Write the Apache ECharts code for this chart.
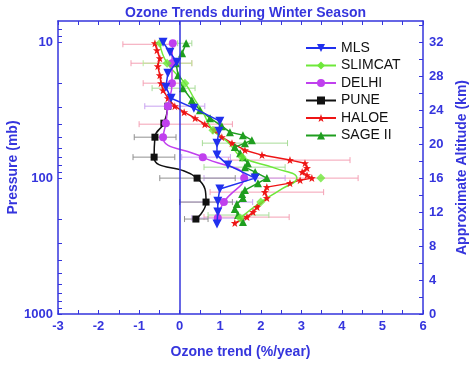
<!DOCTYPE html>
<html><head><meta charset="utf-8">
<script src="https://cdn.jsdelivr.net/npm/echarts@6/dist/echarts.min.js"></script>
<style>html,body{margin:0;padding:0;background:#fff}#c{width:474px;height:373px}</style>
</head><body><div id="c"></div>
<script>
// ---- axis definitions ----
const trendTicks = [-3,-2,-1,0,1,2,3,4,5,6];
const pressureLabelValues = [1000, 100, 10];
const pressureMinorTicks = [1000,900,800,700,600,500,400,300,200,100,90,80,70,60,50,40,30,20,10,9,8];
const altitudeLabels = [0,4,8,12,16,20,24,28,32];
const altitudeTicks = [0,2,4,6,8,10,12,14,16,18,20,22,24,26,28,30,32,34];

// ---- series data (altitude km, trend %/year) ----
const mlsAlt   = [32.0,30.82,29.65,28.35,26.71,25.41,24.24,22.71,21.53,20.12,18.71,17.53,16.0,14.71,13.29,12.0,10.59];
const mlsTrend = [-0.41,-0.24,-0.07,-0.29,-0.34,-0.21,0.35,0.99,0.97,0.92,0.92,1.19,1.86,0.99,0.94,0.94,0.92];

const slimcatLineAlt   = [31.88,29.53,27.18,25.18,23.76,21.65,20.24,18.47,17.18,16.0,14.59,13.18,11.29];
const slimcatLineTrend = [-0.49,-0.31,0.13,0.38,0.57,0.82,1.19,1.54,2.35,2.89,2.47,2.0,1.49];
const slimcatPtAlt   = [31.88,29.53,27.18,21.65,18.47,16.0,13.18,11.29];
const slimcatPtTrend = [-0.49,-0.31,0.13,0.82,1.54,3.48,2.0,1.49];

const delhiAlt   = [31.88,29.53,27.18,24.47,22.47,20.82,18.47,16.0,13.18,11.29];
const delhiTrend = [-0.17,-0.19,-0.19,-0.29,-0.34,-0.41,0.57,1.59,1.09,0.94];

const puneAlt   = [24.47,22.47,20.82,18.47,16.0,13.18,11.18];
const puneTrend = [-0.29,-0.39,-0.61,-0.63,0.43,0.65,0.40];

const haloeAlt   = [31.88,31.06,30.12,29.18,28.12,27.18,26.35,25.41,24.47,23.76,23.06,22.35,21.65,20.82,20.12,19.29,18.71,18.12,17.76,17.18,16.71,16.35,16.0,15.76,15.41,14.94,14.35,13.65,12.59,12.0,11.41,10.71];
const haloeTrend = [-0.61,-0.56,-0.49,-0.54,-0.49,-0.46,-0.41,-0.29,-0.12,0.11,0.38,0.62,0.85,1.04,1.29,1.61,2.03,2.72,3.09,3.14,3.02,3.14,3.26,2.97,2.72,2.15,2.10,2.15,1.91,1.81,1.66,1.36];

const sageAlt   = [31.88,30.71,29.53,28.12,26.59,25.18,24.0,23.06,22.12,21.41,21.06,20.47,20.12,19.65,18.94,18.47,17.76,17.29,16.71,16.0,15.41,14.59,14.12,13.65,12.94,12.35,11.65,10.82];
const sageTrend = [0.16,0.06,-0.09,-0.04,0.08,0.30,0.50,0.75,1.04,1.24,1.56,1.78,1.61,1.36,1.49,1.56,1.68,1.61,1.86,2.15,1.93,1.61,1.54,1.56,1.41,1.36,1.44,1.56];

// ---- error bars: [altitude, low, high] ----
const haloeErr = [[31.76,-1.40,-0.12],[29.53,-1.20,0.30],[27.18,-0.90,0.0],[22.35,-1.0,1.3],[18.12,1.2,4.2],[16.0,2.15,4.4],[14.35,0.75,3.55],[11.41,0.6,2.7]];
const delhiErr = [[24.47,-0.86,0.62],[18.47,0.05,1.25],[16.0,0.6,2.6],[13.18,0.0,1.8],[11.29,0.3,1.6]];
const puneErr  = [[20.82,-1.12,-0.09],[18.47,-1.15,-0.12],[16.0,-0.49,1.37],[13.18,0.0,1.3],[11.18,0.12,0.7]];
const sageErr  = [[31.88,-0.05,0.30],[26.59,-0.68,0.38],[20.12,0.56,2.66],[17.29,0.6,2.6],[11.65,0.7,2.2]];
const slimcatErr = [[29.53,-0.9,0.3]];

const blue = '#3535dd';
const font = 'Liberation Sans, Arial, sans-serif';
const pToAlt = p => 16 * Math.log10(1000 / p);
const zip = (xs, ys) => xs.map((x, i) => [x, ys[i]]);
const star = 'path://M0,-10 L2.35,-3.24 L9.51,-3.09 L3.8,1.24 L5.88,8.09 L0,4 L-5.88,8.09 L-3.8,1.24 L-9.51,-3.09 L-2.35,-3.24Z';

function errSeries(name, data, color) {
  return {
    type: 'custom', name: name, z: 1, silent: true,
    xAxisIndex: 0, yAxisIndex: 0,
    data: data,
    encode: { x: [1, 2], y: 0 },
    renderItem: function (params, api) {
      const z = api.value(0), lo = api.value(1), hi = api.value(2);
      const a = api.coord([lo, z]), b = api.coord([hi, z]);
      const st = { stroke: color, lineWidth: 1 };
      return { type: 'group', children: [
        { type: 'line', shape: { x1: a[0], y1: a[1], x2: b[0], y2: b[1] }, style: st },
        { type: 'line', shape: { x1: a[0], y1: a[1] - 3, x2: a[0], y2: a[1] + 3 }, style: st },
        { type: 'line', shape: { x1: b[0], y1: b[1] - 3, x2: b[0], y2: b[1] + 3 }, style: st }
      ]};
    }
  };
}

const lineDefaults = { type: 'line', lineStyle: { width: 1.5 }, z: 3 };
const axisLineStyle = { show: true, onZero: false, lineStyle: { color: blue, width: 1.5 } };
const chart = echarts.init(document.getElementById('c'), null, { renderer: 'canvas' });
chart.setOption({
  animation: false,
  backgroundColor: '#fff',
  title: { text: 'Ozone Trends during Winter Season', left: 120, top: 1,
    textStyle: { color: blue, fontSize: 14, fontWeight: 'bold', fontFamily: font } },
  legend: {
    orient: 'vertical', left: 300, top: 35, itemWidth: 30, itemHeight: 10, itemGap: 1.5,
    textStyle: { fontSize: 14, color: '#111', fontFamily: font, lineHeight: 16 },
    data: ['MLS','SLIMCAT','DELHI','PUNE','HALOE','SAGE II']
  },
  grid: { left: 58, right: 51, top: 21, bottom: 59, containLabel: false, outerBoundsMode: 'none' },
  xAxis: [{
    type: 'value', position: 'bottom', min: -3, max: 6, interval: 1,
    name: 'Ozone trend (%/year)', nameLocation: 'middle', nameGap: 31,
    nameTextStyle: { color: blue, fontSize: 14, fontWeight: 'bold', fontFamily: font },
    axisLine: axisLineStyle,
    axisTick: { show: true, inside: true, length: 4, lineStyle: { color: blue } },
    minorTick: { show: true, splitNumber: 2, length: 4, lineStyle: { color: blue } },
    axisLabel: { color: blue, fontSize: 13, fontWeight: 'bold', fontFamily: font, margin: 6,
      customValues: trendTicks },
    splitLine: { show: false }
  }, {
    type: 'value', position: 'top', min: -3, max: 6, interval: 1,
    axisLine: axisLineStyle,
    axisTick: { show: true, inside: true, length: 4, lineStyle: { color: blue } },
    minorTick: { show: true, splitNumber: 2, length: 4, lineStyle: { color: blue } },
    axisLabel: { show: false }, splitLine: { show: false }
  }],
  yAxis: [{
    type: 'value', position: 'left', min: 0, max: 34.5,
    name: 'Pressure (mb)', nameLocation: 'middle', nameGap: 38, nameRotate: 90,
    nameMoveOverlap: false,
    nameTextStyle: { color: blue, fontSize: 14, fontWeight: 'bold', fontFamily: font },
    axisLine: axisLineStyle,
    axisTick: { show: true, inside: true, length: 4, lineStyle: { color: blue },
      customValues: pressureMinorTicks.map(pToAlt) },
    axisLabel: { color: blue, fontSize: 13, fontWeight: 'bold', fontFamily: font, margin: 5,
      customValues: pressureLabelValues.map(pToAlt),
      formatter: v => String(Math.round(1000 / Math.pow(10, v / 16))) },
    splitLine: { show: false }
  }, {
    type: 'value', position: 'right', min: 0, max: 34.5,
    name: 'Approximate Altitude (km)', nameLocation: 'middle', nameGap: 32, nameRotate: 90,
    nameTextStyle: { color: blue, fontSize: 14, fontWeight: 'bold', fontFamily: font },
    axisLine: axisLineStyle,
    axisTick: { show: true, inside: true, length: 4, lineStyle: { color: blue },
      customValues: altitudeTicks },
    axisLabel: { color: blue, fontSize: 13, fontWeight: 'bold', fontFamily: font, margin: 6,
      customValues: altitudeLabels },
    splitLine: { show: false }
  }],
  series: [
    errSeries('haloeErr', haloeErr, '#f4a0b4'),
    errSeries('delhiErr', delhiErr, '#c9a2f0'),
    errSeries('puneErr', puneErr, '#909090'),
    errSeries('sageErr', sageErr, '#a8dc98'),
    errSeries('slimcatErr', slimcatErr, '#b8ec98'),
    Object.assign({}, lineDefaults, { name: 'HALOE', data: zip(haloeTrend, haloeAlt),
      color: '#ee1515', symbol: star, symbolSize: 8 }),
    Object.assign({}, lineDefaults, { name: 'SAGE II', data: zip(sageTrend, sageAlt),
      color: '#1f9e1f', symbol: 'triangle', symbolSize: 8 }),
    Object.assign({}, lineDefaults, { name: 'PUNE', data: zip(puneTrend, puneAlt), smooth: 0.5,
      color: '#111', symbol: 'rect', symbolSize: 7 }),
    Object.assign({}, lineDefaults, { name: 'DELHI', data: zip(delhiTrend, delhiAlt), smooth: 0.5,
      color: '#c040ee', symbol: 'circle', symbolSize: 8, z: 4 }),
    Object.assign({}, lineDefaults, { name: 'SLIMCAT',
      data: zip(slimcatLineTrend, slimcatLineAlt).map(v => ({ value: v, symbol: 'none' })), smooth: 0.5,
      color: '#6ee83a', symbol: 'diamond', symbolSize: 9 }),
    { type: 'scatter', name: 'SLIMCAT', data: zip(slimcatPtTrend, slimcatPtAlt), z: 4,
      color: '#6ee83a', symbol: 'diamond', symbolSize: 9 },
    Object.assign({}, lineDefaults, { name: 'MLS', data: zip(mlsTrend, mlsAlt),
      color: '#2030ee', symbol: 'triangle', symbolRotate: 180, symbolSize: 9, z: 5,
      markLine: { silent: true, symbol: 'none', label: { show: false },
        lineStyle: { color: blue, width: 1.5, type: 'solid' }, data: [{ xAxis: 0 }] } })
  ]
});
</script></body></html>
